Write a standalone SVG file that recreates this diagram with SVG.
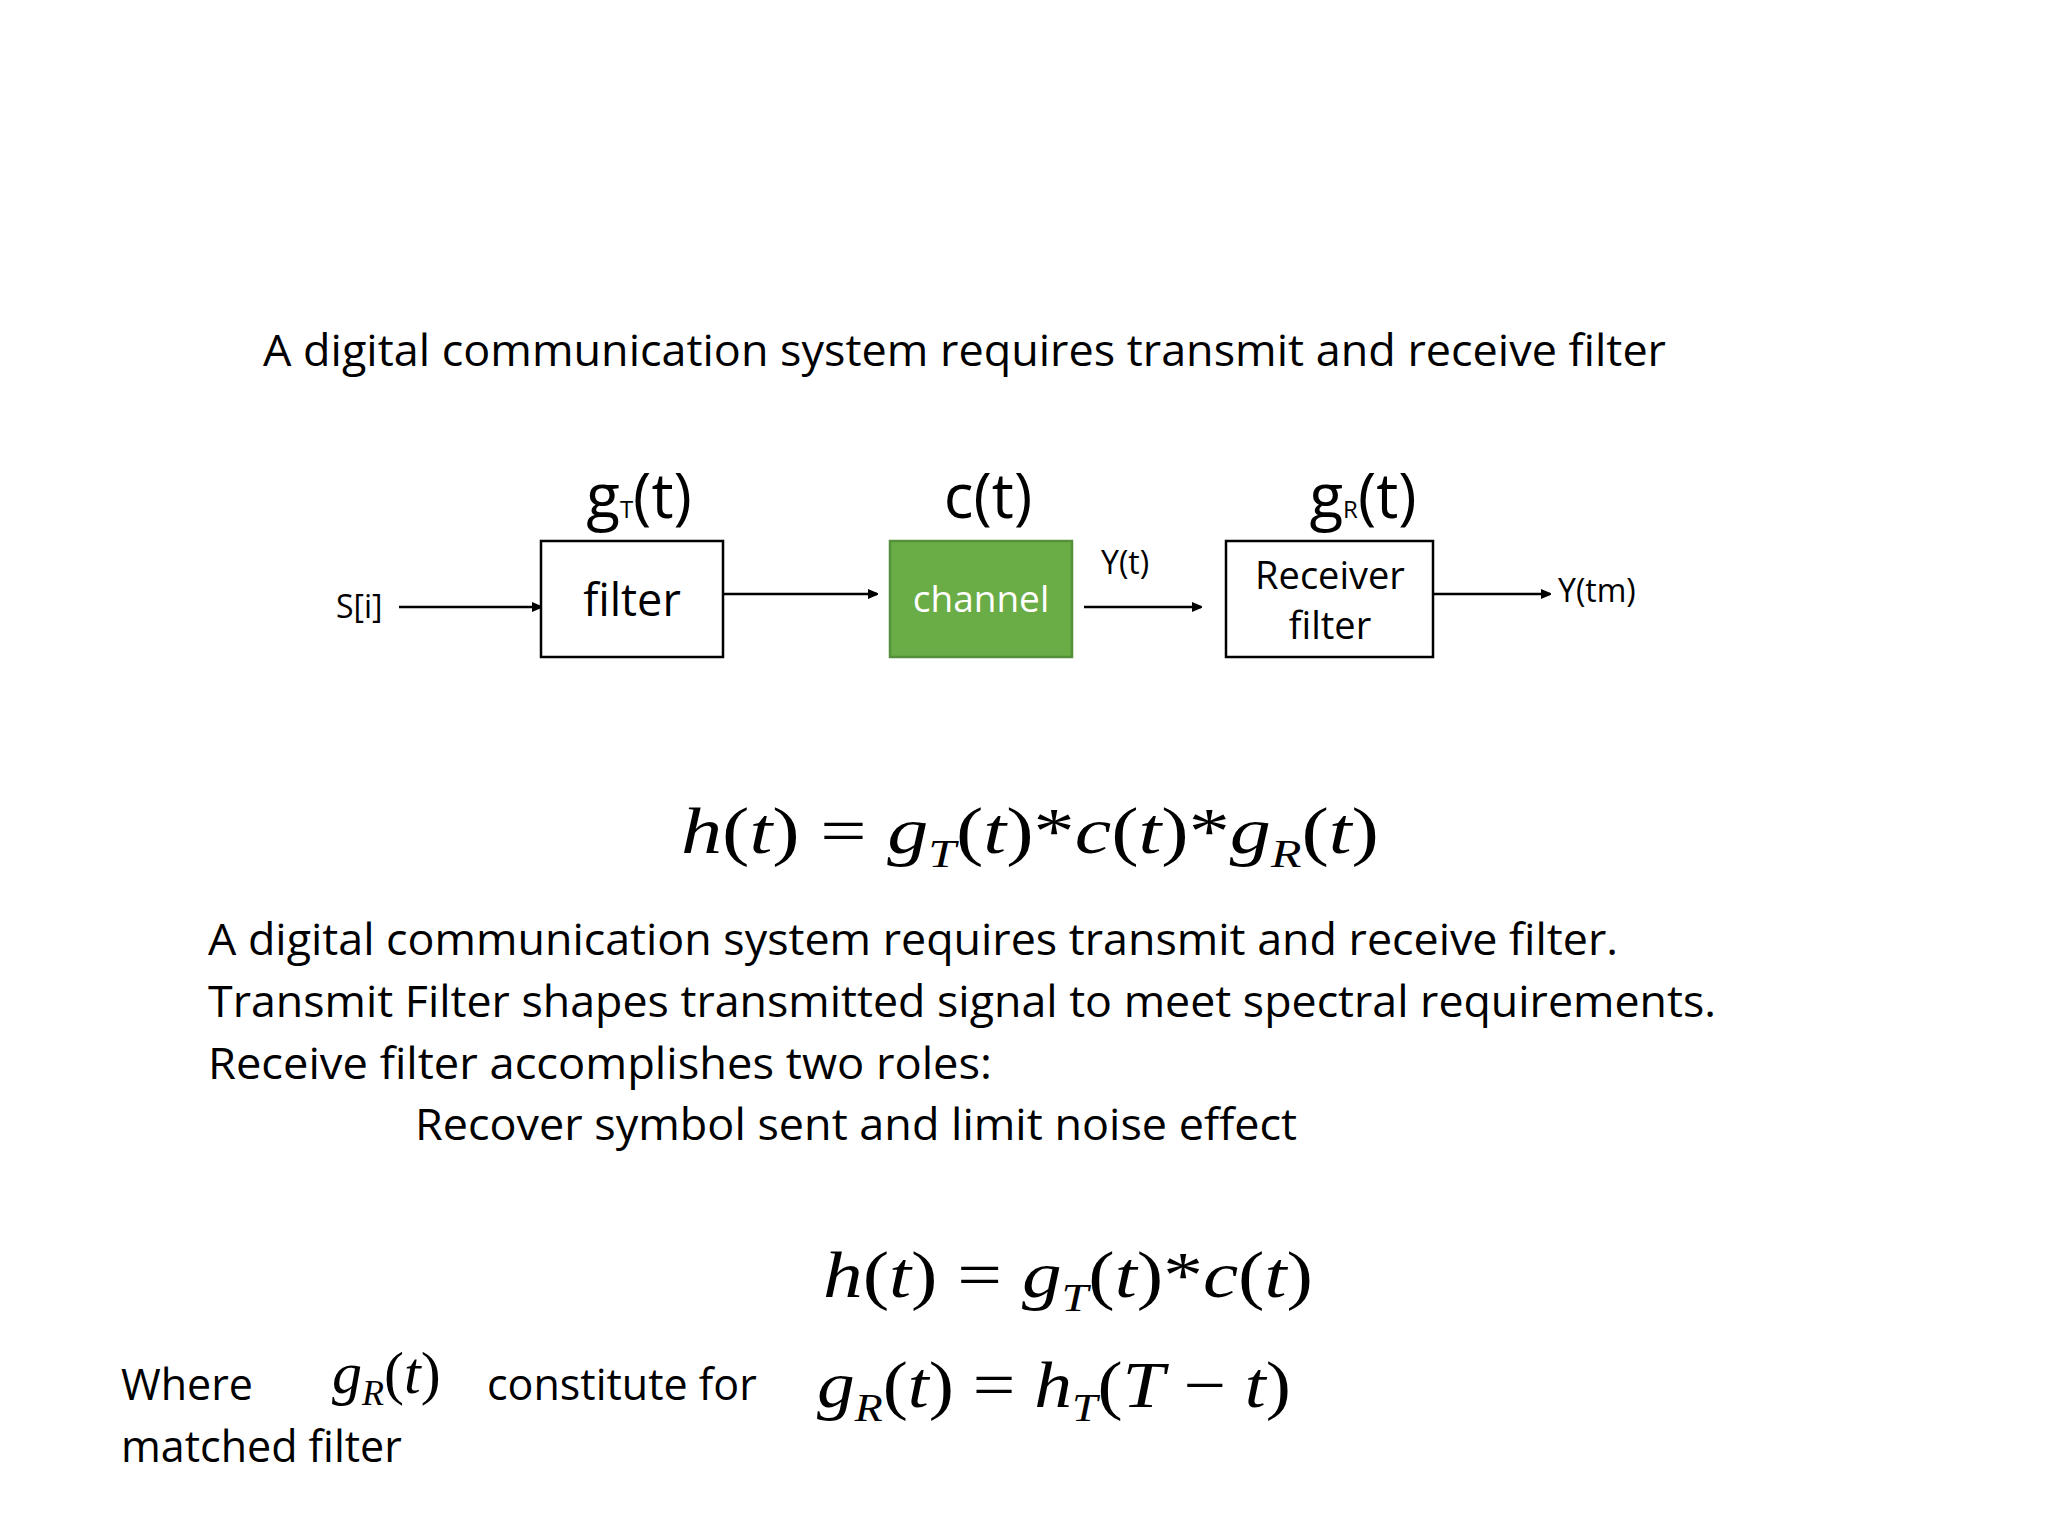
<svg xmlns="http://www.w3.org/2000/svg" width="2048" height="1536" viewBox="0 0 2048 1536">
<defs>
<marker id="ah" markerWidth="10" markerHeight="10" refX="9" refY="5" orient="auto" markerUnits="userSpaceOnUse"><path d="M0,0 L12,5 L0,10 Z" fill="#000"/></marker>
</defs>
<style>
.t{font-family:"Open Sans","Liberation Sans",sans-serif;fill:#000}
.m{font-family:"Liberation Serif",serif;font-style:italic;fill:#000}
.u{font-family:"Liberation Serif",serif;font-style:normal}
.box{fill:#fff;stroke:#000;stroke-width:2.5}
.c{stroke:#000;stroke-width:2.5;fill:none;marker-end:url(#ah)}
</style>
<rect width="2048" height="1536" fill="#fff"/>
<text class="t" x="263" y="366" font-size="43" textLength="1403" lengthAdjust="spacingAndGlyphs">A digital communication system requires transmit and receive filter</text>
<g id="filter"><rect class="box" x="541" y="541" width="182" height="116"/><text class="t" x="632" y="616" font-size="45" text-anchor="middle">filter</text>
<text class="t" x="639" y="518" font-size="62" text-anchor="middle">g<tspan font-size="24">T</tspan>(t)</text></g>
<g id="channel"><rect x="890" y="541" width="182" height="116" fill="#6aac46" stroke="#55913a" stroke-width="2.5"/><text class="t" x="981" y="612" font-size="37" text-anchor="middle" fill="#fff" style="fill:#fff">channel</text>
<text class="t" x="988" y="518" font-size="62" text-anchor="middle">c(t)</text></g>
<g id="receiver"><rect class="box" x="1226" y="541" width="207" height="116"/><text class="t" x="1330" y="589" font-size="38" text-anchor="middle">Receiver</text><text class="t" x="1330" y="639" font-size="38" text-anchor="middle">filter</text>
<text class="t" x="1363" y="518" font-size="62" text-anchor="middle">g<tspan font-size="24">R</tspan>(t)</text></g>
<g id="labels"><text class="t" x="336" y="618" font-size="32">S[i]</text><text class="t" x="1101" y="574" font-size="32">Y(t)</text><text class="t" x="1558" y="602" font-size="32">Y(tm)</text></g>
<g id="connectors">
<line class="c" x1="399" y1="607" x2="541" y2="607"/>
<line class="c" x1="723" y1="594" x2="877" y2="594"/>
<line class="c" x1="1084" y1="607" x2="1201" y2="607"/>
<line class="c" x1="1433" y1="594" x2="1550" y2="594"/>
</g>
<text class="m" x="681" y="853" font-size="66" textLength="698" lengthAdjust="spacingAndGlyphs">h<tspan class="u">(</tspan>t<tspan class="u">) = </tspan>g<tspan font-size="40" dy="14">T</tspan><tspan class="u" dy="-14">(</tspan>t<tspan class="u">)*</tspan>c<tspan class="u">(</tspan>t<tspan class="u">)*</tspan>g<tspan font-size="40" dy="14">R</tspan><tspan class="u" dy="-14">(</tspan>t<tspan class="u">)</tspan></text>
<text class="t" x="208" y="955" font-size="43" textLength="1410" lengthAdjust="spacingAndGlyphs">A digital communication system requires transmit and receive filter.</text>
<text class="t" x="208" y="1017" font-size="43" textLength="1508" lengthAdjust="spacingAndGlyphs">Transmit Filter shapes transmitted signal to meet spectral requirements.</text>
<text class="t" x="208" y="1079" font-size="43" textLength="784" lengthAdjust="spacingAndGlyphs">Receive filter accomplishes two roles:</text>
<text class="t" x="415" y="1140" font-size="43" textLength="882" lengthAdjust="spacingAndGlyphs">Recover symbol sent and limit noise effect</text>
<text class="m" x="823" y="1297" font-size="66" textLength="490" lengthAdjust="spacingAndGlyphs">h<tspan class="u">(</tspan>t<tspan class="u">) = </tspan>g<tspan font-size="40" dy="14">T</tspan><tspan class="u" dy="-14">(</tspan>t<tspan class="u">)*</tspan>c<tspan class="u">(</tspan>t<tspan class="u">)</tspan></text>
<text class="t" x="121" y="1400" font-size="43">Where</text>
<text class="m" x="332" y="1393" font-size="60">g<tspan font-size="36" dy="12">R</tspan><tspan class="u" dy="-12">(</tspan>t<tspan class="u">)</tspan></text>
<text class="t" x="487" y="1400" font-size="43">constitute for</text>
<text class="m" x="817" y="1407" font-size="66" textLength="474" lengthAdjust="spacingAndGlyphs">g<tspan font-size="40" dy="14">R</tspan><tspan class="u" dy="-14">(</tspan>t<tspan class="u">) = </tspan>h<tspan font-size="40" dy="14">T</tspan><tspan class="u" dy="-14">(</tspan>T<tspan class="u"> − </tspan>t<tspan class="u">)</tspan></text>
<text class="t" x="121" y="1462" font-size="43">matched filter</text>
</svg>
